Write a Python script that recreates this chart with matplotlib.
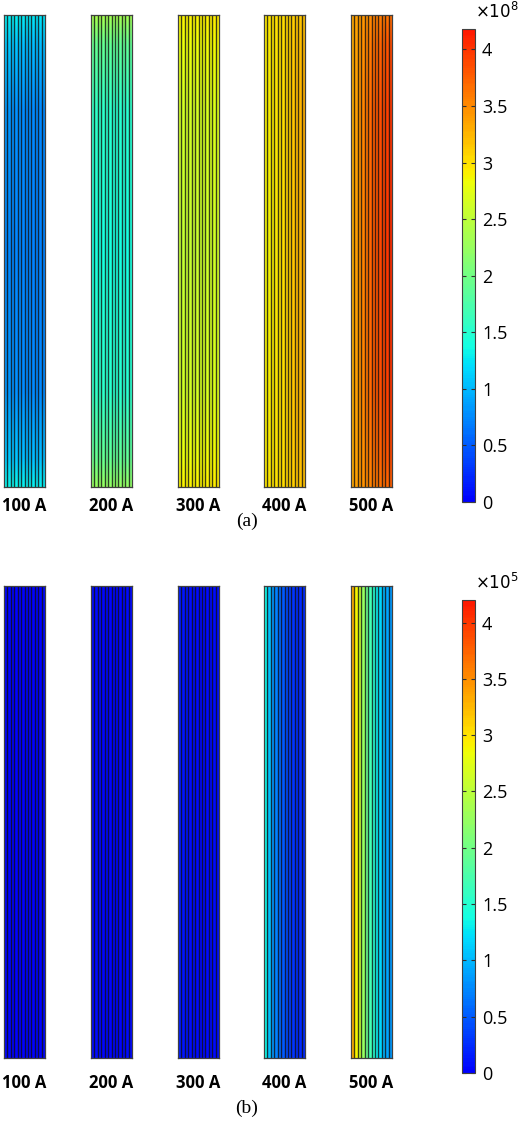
import numpy as np
import matplotlib
matplotlib.use("Agg")
import matplotlib.pyplot as plt
from matplotlib.colors import LinearSegmentedColormap, Normalize
from matplotlib.cm import ScalarMappable

# ---------------- data ----------------
currents = ["100 A", "200 A", "300 A", "400 A", "500 A"]
cbar_ticks = [0, 0.5, 1, 1.5, 2, 2.5, 3, 3.5, 4]
vmax_a = 4.18   # x10^8
vmax_b = 4.2    # x10^5

# (a) normalized height along conductor (bottom -> top), values x10^8 at left/middle/right
heights_a = [0.0, 0.06, 0.2, 0.5, 0.8, 0.94, 1.0]
field_a_100 = [[1.35, 1.32, 1.30], [1.10, 1.05, 1.02], [0.82, 0.78, 0.75], [0.75, 0.72, 0.70],
               [0.82, 0.78, 0.75], [1.10, 1.05, 1.02], [1.30, 1.28, 1.25]]
field_a_200 = [[2.30, 2.25, 2.25], [1.95, 1.90, 1.90], [1.58, 1.53, 1.53], [1.42, 1.40, 1.40],
               [1.58, 1.53, 1.53], [1.95, 1.90, 1.90], [2.40, 2.35, 2.35]]
field_a_300 = [[2.92, 2.92, 2.95], [2.80, 2.82, 2.86], [2.62, 2.65, 2.72], [2.52, 2.56, 2.64],
               [2.62, 2.65, 2.72], [2.80, 2.82, 2.86], [2.92, 2.92, 2.95]]
field_a_400 = [[2.95, 3.05, 3.20], [2.92, 3.05, 3.25], [2.88, 3.05, 3.30], [2.85, 3.05, 3.30],
               [2.88, 3.05, 3.30], [2.92, 3.05, 3.25], [2.95, 3.05, 3.20]]
field_a_500 = [[3.30, 3.55, 3.75], [3.28, 3.62, 3.88], [3.25, 3.72, 4.00], [3.25, 3.75, 4.05],
               [3.25, 3.72, 4.00], [3.28, 3.62, 3.88], [3.30, 3.50, 3.65]]
fields_a = [field_a_100, field_a_200, field_a_300, field_a_400, field_a_500]

# (b) per-strip values x10^5 (left -> right), uniform along height
strips_b_100 = [0.04, 0.04, 0.03, 0.03, 0.03, 0.03, 0.03, 0.03, 0.03, 0.03, 0.03, 0.04]
strips_b_200 = [0.06, 0.05, 0.05, 0.04, 0.04, 0.04, 0.04, 0.04, 0.04, 0.04, 0.05, 0.05]
strips_b_300 = [0.18, 0.12, 0.10, 0.08, 0.07, 0.06, 0.06, 0.06, 0.06, 0.06, 0.06, 0.07]
strips_b_400 = [1.35, 1.05, 0.85, 0.70, 0.58, 0.48, 0.40, 0.34, 0.30, 0.26, 0.24, 0.24]
strips_b_500 = [3.30, 2.90, 2.55, 2.25, 1.95, 1.70, 1.50, 1.30, 1.15, 1.00, 0.90, 0.85]
strips_b = [strips_b_100, strips_b_200, strips_b_300, strips_b_400, strips_b_500]

# ---------------- layout ----------------
W, H = 520, 1122
fig = plt.figure(figsize=(W / 100, H / 100), dpi=100)

cmap = LinearSegmentedColormap.from_list(
    "rainbow_c", plt.cm.jet(np.linspace(0.125, 0.885, 256)))

bar_left = [4, 91, 178, 264, 351]
bar_w = 41
n_strips = 12


def px_axes(x, y, w, h):
    return fig.add_axes([x / W, 1 - (y + h) / H, w / W, h / H])


def style_bar(ax):
    for k in range(1, n_strips):
        ax.axvline(k / n_strips, color="#111111", lw=1.0, alpha=0.8)
    ax.set_xlim(0, 1)
    ax.set_ylim(0, 1)
    ax.set_xticks([])
    ax.set_yticks([])
    for s in ax.spines.values():
        s.set_color("#404040")
        s.set_linewidth(0.9)


def add_colorbar(y_top, y_bot, vmax, power):
    cax = px_axes(462, y_top, 13, y_bot - y_top)
    sm = ScalarMappable(norm=Normalize(0, vmax), cmap=cmap)
    cb = fig.colorbar(sm, cax=cax, ticks=cbar_ticks)
    cb.ax.set_yticklabels([f"{t:g}" for t in cbar_ticks])
    cb.ax.tick_params(direction="in", left=True, right=True, length=3,
                      width=0.8, color="#303030", labelsize=13, pad=5)
    for lab in cb.ax.get_yticklabels():
        lab.set_family(["Open Sans", "DejaVu Sans"])
    cb.outline.set_edgecolor("#404040")
    cb.outline.set_linewidth(0.8)
    fig.text(497 / W, 1 - (y_top - 17) / H, r"$\times10^{%d}$" % power,
             ha="center", va="center", fontsize=12)


label_font = dict(fontsize=12, fontweight="bold", family=["Open Sans", "DejaVu Sans"],
                  ha="center", va="center")

# ---- panel (a)
top_a, bot_a = 15, 487
for i, cur in enumerate(currents):
    ax = px_axes(bar_left[i], top_a, bar_w, bot_a - top_a)
    vals = np.array(fields_a[i])
    xs = np.linspace(0, 1, vals.shape[1])
    X, Y = np.meshgrid(xs, heights_a)
    ax.pcolormesh(X, Y, vals, cmap=cmap, vmin=0, vmax=vmax_a, shading="gouraud")
    style_bar(ax)
    fig.text((bar_left[i] + bar_w / 2) / W, 1 - 506 / H, cur, **label_font)
add_colorbar(29, 502, vmax_a, 8)
fig.text(247 / W, 1 - 521 / H, "(a)", ha="center", va="center", fontsize=14,
         family=["Liberation Serif", "DejaVu Serif"])

# ---- panel (b)
top_b, bot_b = 586, 1058
for i, cur in enumerate(currents):
    ax = px_axes(bar_left[i], top_b, bar_w, bot_b - top_b)
    vals = np.array([strips_b[i]])
    xe = np.linspace(0, 1, n_strips + 1)
    ye = [0, 1]
    ax.pcolormesh(xe, ye, vals, cmap=cmap, vmin=0, vmax=vmax_b, shading="flat")
    style_bar(ax)
    fig.text((bar_left[i] + bar_w / 2) / W, 1 - 1083 / H, cur, **label_font)
add_colorbar(600, 1073, vmax_b, 5)
fig.text(247 / W, 1 - 1108 / H, "(b)", ha="center", va="center", fontsize=14,
         family=["Liberation Serif", "DejaVu Serif"])

fig.savefig("out.png", dpi=100)
